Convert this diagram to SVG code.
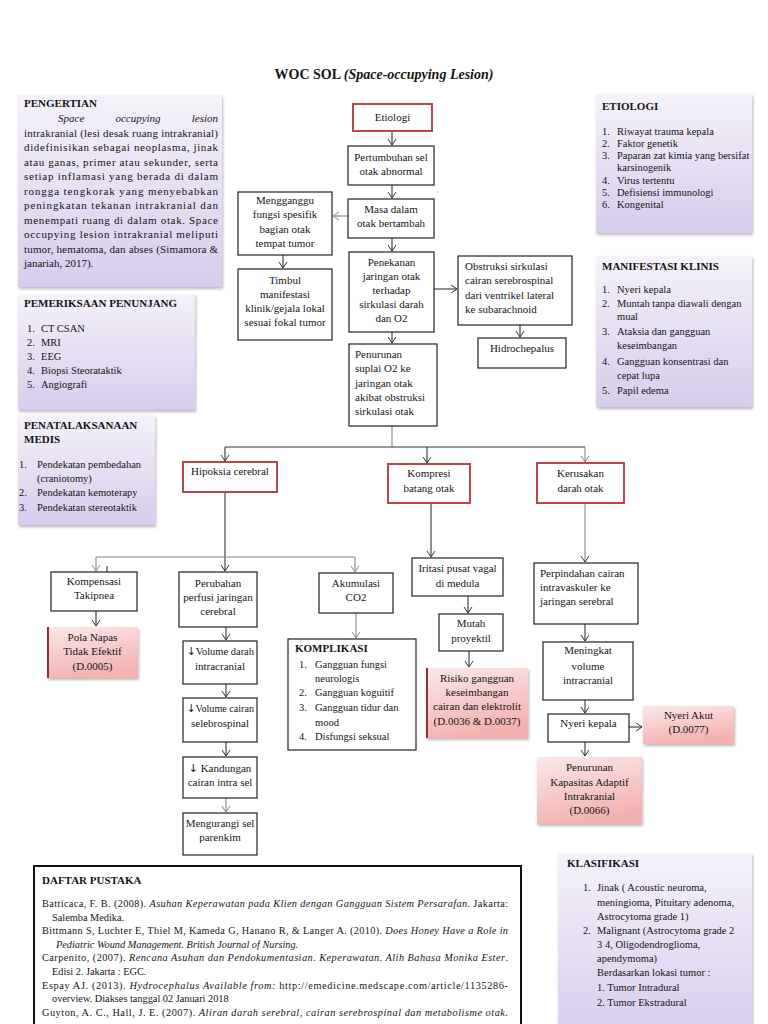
<svg xmlns="http://www.w3.org/2000/svg" width="768" height="1024" viewBox="0 0 768 1024">
<defs>
<linearGradient id="purple" x1="0" y1="0" x2="0" y2="1">
<stop offset="0" stop-color="#f5f2fa"/><stop offset="1" stop-color="#d8ccec"/>
</linearGradient>
<linearGradient id="pink" x1="0" y1="0" x2="0.3" y2="1">
<stop offset="0" stop-color="#fde8e8"/><stop offset="1" stop-color="#f2b2b2"/>
</linearGradient>
<filter id="sh" x="-10%" y="-10%" width="125%" height="125%">
<feDropShadow dx="1" dy="2" stdDeviation="1.5" flood-color="#888" flood-opacity="0.6"/>
</filter>
<marker id="ar" markerUnits="userSpaceOnUse" markerWidth="10" markerHeight="10" viewBox="-7 -5 8 10" refX="0" refY="0" orient="auto">
<path d="M-6,-4 L0,0 L-6,4" fill="none" stroke="#333" stroke-width="1"/>
</marker>
<marker id="ag" markerUnits="userSpaceOnUse" markerWidth="10" markerHeight="10" viewBox="-7 -5 8 10" refX="0" refY="0" orient="auto">
<path d="M-6,-4 L0,0 L-6,4" fill="none" stroke="#888" stroke-width="1"/>
</marker>
</defs>
<style>
text{font-family:"Liberation Serif","Times New Roman",serif;fill:#151515}
.t{font-size:11px}
.c{text-anchor:middle}
.h{font-weight:bold;font-size:11px}
.s{font-size:10.5px}
.d{font-size:10.3px}
.i{font-style:italic}
.dn{font-family:"DejaVu Sans",sans-serif;font-size:11px}
.n{fill:#fff;stroke:#222;stroke-width:1.2}
.r{fill:#fff;stroke:#b84645;stroke-width:2}
.pk{fill:url(#pink);filter:url(#sh)}
.pu{fill:url(#purple);filter:url(#sh)}
.ln{fill:none;stroke:#333;stroke-width:1.1}
.lg{fill:none;stroke:#888;stroke-width:1.1}
</style>
<rect width="768" height="1024" fill="#fff"/>

<text x="384" y="79" text-anchor="middle" style="font-size:14px;font-weight:bold">WOC SOL <tspan font-style="italic">(Space-occupying Lesion)</tspan></text>

<g id="pengertian">
<rect class="pu" x="18" y="95" width="204" height="192"/>
<text class="h" x="24" y="107">PENGERTIAN</text>
<text class="t i" x="58" y="122">Space</text>
<text class="t i c" x="138" y="122">occupying</text>
<text class="t i" x="218" y="122" text-anchor="end">lesion</text>
<text class="t" x="24" y="136.5" textLength="194" lengthAdjust="spacing">intrakranial (lesi desak ruang intrakranial)</text>
<text class="t" x="24" y="151" textLength="194" lengthAdjust="spacing">didefinisikan sebagai neoplasma, jinak</text>
<text class="t" x="24" y="165.5" textLength="194" lengthAdjust="spacing">atau ganas, primer atau sekunder, serta</text>
<text class="t" x="24" y="180" textLength="194" lengthAdjust="spacing">setiap inflamasi yang berada di dalam</text>
<text class="t" x="24" y="194.5" textLength="194" lengthAdjust="spacing">rongga tengkorak yang menyebabkan</text>
<text class="t" x="24" y="209" textLength="194" lengthAdjust="spacing">peningkatan tekanan intrakranial dan</text>
<text class="t" x="24" y="223.5" textLength="194" lengthAdjust="spacing">menempati ruang di dalam otak. Space</text>
<text class="t" x="24" y="238" textLength="194" lengthAdjust="spacing">occupying lesion intrakranial meliputi</text>
<text class="t" x="24" y="252.5" textLength="194" lengthAdjust="spacing">tumor, hematoma, dan abses (Simamora &amp;</text>
<text class="t" x="24" y="267">janariah, 2017).</text>
</g>

<g id="pemeriksaan">
<rect class="pu" x="18" y="294" width="177" height="116"/>
<text class="h" x="24" y="307">PEMERIKSAAN PENUNJANG</text>
<g class="s">
<text x="27" y="332">1.</text><text x="41" y="332">CT CSAN</text>
<text x="27" y="346">2.</text><text x="41" y="346">MRI</text>
<text x="27" y="360">3.</text><text x="41" y="360">EEG</text>
<text x="27" y="374">4.</text><text x="41" y="374">Biopsi Steorataktik</text>
<text x="27" y="388">5.</text><text x="41" y="388">Angiografi</text>
</g>
</g>

<g id="penatalaksanaan">
<rect class="pu" x="18" y="415" width="137" height="110"/>
<text class="h" x="24" y="429">PENATALAKSANAAN</text>
<text class="h" x="24" y="443">MEDIS</text>
<g class="s">
<text x="19" y="468">1.</text><text x="37" y="468">Pendekatan pembedahan</text>
<text x="37" y="482">(craniotomy)</text>
<text x="19" y="496">2.</text><text x="37" y="496">Pendekatan kemoterapy</text>
<text x="19" y="511">3.</text><text x="37" y="511">Pendekatan stereotaktik</text>
</g>
</g>

<g id="etiologi-list">
<rect class="pu" x="596" y="94" width="156" height="139"/>
<text class="h" x="602" y="110">ETIOLOGI</text>
<g class="s">
<text x="602" y="135">1.</text><text x="617" y="135">Riwayat trauma kepala</text>
<text x="602" y="147">2.</text><text x="617" y="147">Faktor genetik</text>
<text x="602" y="159">3.</text><text x="617" y="159">Paparan zat kimia yang bersifat</text>
<text x="617" y="171">karsinogenik</text>
<text x="602" y="184">4.</text><text x="617" y="184">Virus tertentu</text>
<text x="602" y="196">5.</text><text x="617" y="196">Defisiensi immunologi</text>
<text x="602" y="208">6.</text><text x="617" y="208">Kongenital</text>
</g>
</g>

<g id="manifestasi">
<rect class="pu" x="596" y="256" width="156" height="151"/>
<text class="h" x="602" y="270">MANIFESTASI KLINIS</text>
<g class="s">
<text x="602" y="293">1.</text><text x="617" y="293">Nyeri kepala</text>
<text x="602" y="307">2.</text><text x="617" y="307">Muntah tanpa diawali dengan</text>
<text x="617" y="320">mual</text>
<text x="602" y="335">3.</text><text x="617" y="335">Ataksia dan gangguan</text>
<text x="617" y="349">keseimbangan</text>
<text x="602" y="365">4.</text><text x="617" y="365">Gangguan konsentrasi dan</text>
<text x="617" y="379">cepat lupa</text>
<text x="602" y="394">5.</text><text x="617" y="394">Papil edema</text>
</g>
</g>

<g id="klasifikasi">
<rect class="pu" x="558" y="853" width="194" height="185"/>
<text class="h" x="567" y="867">KLASIFIKASI</text>
<g class="s">
<text x="583" y="891">1.</text><text x="597" y="891">Jinak ( Acoustic neuroma,</text>
<text x="597" y="906">meningioma, Pituitary adenoma,</text>
<text x="597" y="920">Astrocytoma grade 1)</text>
<text x="583" y="934">2.</text><text x="597" y="934">Malignant (Astrocytoma grade 2</text>
<text x="597" y="948">3 4, Oligodendroglioma,</text>
<text x="597" y="962">apendymoma)</text>
<text x="597" y="976">Berdasarkan lokasi tumor :</text>
<text x="597" y="991">1. Tumor Intradural</text>
<text x="597" y="1006">2. Tumor Ekstradural</text>
</g>
</g>

<g id="daftar-pustaka">
<rect x="34" y="866" width="487" height="170" fill="#fff" stroke="#111" stroke-width="2"/>
<text class="h" x="42" y="884">DAFTAR PUSTAKA</text>
<g class="d">
<text x="42" y="907" textLength="466" lengthAdjust="spacing">Batticaca, F. B. (2008). <tspan class="i">Asuhan Keperawatan pada Klien dengan Gangguan Sistem Persarafan</tspan>. Jakarta:</text>
<text x="52" y="921">Salemba Medika.</text>
<text x="42" y="934" textLength="466" lengthAdjust="spacing">Bittmann S, Luchter E, Thiel M, Kameda G, Hanano R, &amp; Langer A. (2010). <tspan class="i">Does Honey Have a Role in</tspan></text>
<text x="56" y="948" class="i">Pediatric Wound Management. British Journal of Nursing.</text>
<text x="42" y="961" textLength="466" lengthAdjust="spacing">Carpenito, (2007). <tspan class="i">Rencana Asuhan dan Pendokumentasian. Keperawatan. Alih Bahasa Monika Ester</tspan>.</text>
<text x="52" y="975">Edisi 2. Jakarta : EGC.</text>
<text x="42" y="989" textLength="466" lengthAdjust="spacing">Espay AJ. (2013). <tspan class="i">Hydrocephalus Available from:</tspan> http://emedicine.medscape.com/article/1135286-</text>
<text x="52" y="1002">overview. Diakses tanggal 02 Januari 2018</text>
<text x="42" y="1016" textLength="466" lengthAdjust="spacing">Guyton, A. C., Hall, J. E. (2007). <tspan class="i">Aliran darah serebral, cairan serebrospinal dan metabolisme otak.</tspan></text>
</g>
</g>

<g id="connectors">
<path class="ln" d="M392,131 V145" marker-end="url(#ar)"/>
<path class="ln" d="M392,185 V198" marker-end="url(#ar)"/>
<path class="lg" d="M348,216 H333" marker-end="url(#ag)"/>
<path class="ln" d="M283,255 V268" marker-end="url(#ar)"/>
<path class="ln" d="M392,238 V251" marker-end="url(#ar)"/>
<path class="ln" d="M434,289 H457" marker-end="url(#ar)"/>
<path class="ln" d="M520,325 V337" marker-end="url(#ar)"/>
<path class="ln" d="M392,332 V343" marker-end="url(#ar)"/>
<path class="lg" d="M392,426 V447"/>
<path class="ln" d="M225,447 H585"/>
<path class="ln" d="M225,447 V461" marker-end="url(#ar)"/>
<path class="ln" d="M427,447 V463" marker-end="url(#ar)"/>
<path class="lg" d="M585,447 V462" marker-end="url(#ag)"/>
<path class="ln" d="M225,492 V571" marker-end="url(#ar)"/>
<path class="lg" d="M96,557 H355"/>
<path class="lg" d="M96,557 V571" marker-end="url(#ag)"/>
<path class="lg" d="M355,557 V572" marker-end="url(#ag)"/>
<path class="ln" d="M107,566 V579"/>
<path class="ln" d="M96,611 V626" marker-end="url(#ar)"/>
<path class="ln" d="M226,627 V640" marker-end="url(#ar)"/>
<path class="ln" d="M226,684 V697" marker-end="url(#ar)"/>
<path class="ln" d="M226,742 V756" marker-end="url(#ar)"/>
<path class="lg" d="M226,798 V812" marker-end="url(#ag)"/>
<path class="lg" d="M356,613 V638" marker-end="url(#ag)"/>
<path class="ln" d="M431,503 V557" marker-end="url(#ar)"/>
<path class="ln" d="M468,596 V613" marker-end="url(#ar)"/>
<path class="ln" d="M469,651 V667" marker-end="url(#ar)"/>
<path class="lg" d="M585,503 V562" marker-end="url(#ar)"/>
<path class="ln" d="M585,624 V641" marker-end="url(#ar)"/>
<path class="ln" d="M585,700 V713" marker-end="url(#ar)"/>
<path class="ln" d="M629,727 H642" marker-end="url(#ar)"/>
<path class="ln" d="M585,742 V756" marker-end="url(#ar)"/>
</g>

<g id="n-etiologi"><rect class="r" x="353" y="104" width="79" height="27"/><text class="t c" x="392.5" y="121">Etiologi</text></g>
<g id="n-pertumbuhan"><rect class="n" x="348" y="146" width="86" height="39"/><text class="t c" x="391" y="161">Pertumbuhan sel</text><text class="t c" x="391" y="175">otak abnormal</text></g>
<g id="n-masa"><rect class="n" x="348" y="199" width="86" height="39"/><text class="t c" x="391" y="213">Masa dalam</text><text class="t c" x="391" y="227">otak bertambah</text></g>
<g id="n-mengganggu"><rect class="n" x="238" y="192" width="94" height="63"/><text class="t c" x="285" y="204">Mengganggu</text><text class="t c" x="285" y="218">fungsi spesifik</text><text class="t c" x="285" y="233">bagian otak</text><text class="t c" x="285" y="247">tempat tumor</text></g>
<g id="n-timbul"><rect class="n" x="238" y="269" width="94" height="71"/><text class="t c" x="285" y="284">Timbul</text><text class="t c" x="285" y="298">manifestasi</text><text class="t c" x="285" y="312">klinik/gejala lokal</text><text class="t c" x="285" y="326">sesuai fokal tumor</text></g>
<g id="n-penekanan"><rect class="n" x="349" y="252" width="85" height="80"/><text class="t c" x="391.5" y="266">Penekanan</text><text class="t c" x="391.5" y="280">jaringan otak</text><text class="t c" x="391.5" y="294">terhadap</text><text class="t c" x="391.5" y="308">sirkulasi darah</text><text class="t c" x="391.5" y="322">dan O2</text></g>
<g id="n-obstruksi"><rect class="n" x="458" y="256" width="114" height="69"/><text class="t" x="465" y="270">Obstruksi sirkulasi</text><text class="t" x="465" y="284">cairan serebrospinal</text><text class="t" x="465" y="299">dari ventrikel lateral</text><text class="t" x="465" y="313">ke subarachnoid</text></g>
<g id="n-hidrochepalus"><rect class="n" x="478" y="338" width="88" height="30"/><text class="t c" x="522" y="352">Hidrochepalus</text></g>
<g id="n-penurunan-suplai"><rect class="n" x="349" y="344" width="88" height="82"/><text class="t" x="355" y="358">Penurunan</text><text class="t" x="355" y="372">suplai O2 ke</text><text class="t" x="355" y="387">jaringan otak</text><text class="t" x="355" y="401">akibat obstruksi</text><text class="t" x="355" y="415">sirkulasi otak</text></g>
<g id="n-hipoksia"><rect class="r" x="183" y="462" width="94" height="30"/><text class="t c" x="230" y="475">Hipoksia cerebral</text></g>
<g id="n-kompresi"><rect class="r" x="388" y="464" width="82" height="39"/><text class="t c" x="429" y="477">Kompresi</text><text class="t c" x="429" y="492">batang otak</text></g>
<g id="n-kerusakan"><rect class="r" x="537" y="463" width="87" height="40"/><text class="t c" x="580.5" y="477">Kerusakan</text><text class="t c" x="580.5" y="492">darah otak</text></g>
<g id="n-kompensasi"><rect class="n" x="51" y="572" width="86" height="39"/><text class="t c" x="94" y="585">Kompensasi</text><text class="t c" x="94" y="599">Takipnea</text></g>
<g id="n-pola-napas"><rect class="pk" x="47" y="627" width="91" height="51"/><path d="M48,627 V678" stroke="#8a3434" stroke-width="2"/><text class="t c" x="92.5" y="641">Pola Napas</text><text class="t c" x="92.5" y="655">Tidak Efektif</text><text class="t c" x="92.5" y="670">(D.0005)</text></g>
<g id="n-perubahan"><rect class="n" x="179" y="572" width="78" height="55"/><text class="t c" x="218" y="587">Perubahan</text><text class="t c" x="218" y="601">perfusi  jaringan</text><text class="t c" x="218" y="615">cerebral</text></g>
<g id="n-volume-darah"><rect class="n" x="183" y="641" width="74" height="43"/><text class="t" x="187" y="655" textLength="67" lengthAdjust="spacingAndGlyphs"><tspan class="dn">↓</tspan>Volume darah</text><text class="t c" x="220" y="670">intracranial</text></g>
<g id="n-volume-cairan"><rect class="n" x="183" y="698" width="74" height="44"/><text class="t" x="187" y="712" textLength="67" lengthAdjust="spacingAndGlyphs"><tspan class="dn">↓</tspan>Volume cairan</text><text class="t c" x="220" y="727">selebrospinal</text></g>
<g id="n-kandungan"><rect class="n" x="183" y="757" width="74" height="41"/><text class="t c" x="220" y="772"><tspan class="dn">↓</tspan> Kandungan</text><text class="t c" x="220" y="786">cairan intra sel</text></g>
<g id="n-mengurangi"><rect class="n" x="183" y="813" width="74" height="42"/><text class="t c" x="220" y="827">Mengurangi  sel</text><text class="t c" x="220" y="841">parenkim</text></g>
<g id="n-akumulasi"><rect class="n" x="319" y="573" width="74" height="40"/><text class="t c" x="356" y="587">Akumulasi</text><text class="t c" x="356" y="601">CO2</text></g>
<g id="n-komplikasi"><rect class="n" x="288" y="639" width="128" height="111"/><text class="h" x="295" y="652">KOMPLIKASI</text>
<g class="s"><text x="299" y="668">1.</text><text x="315" y="668">Gangguan fungsi</text><text x="315" y="682">neurologis</text><text x="299" y="696">2.</text><text x="315" y="696">Gangguan koguitif</text><text x="299" y="711">3.</text><text x="315" y="711">Gangguan tidur dan</text><text x="315" y="726">mood</text><text x="299" y="740">4.</text><text x="315" y="740">Disfungsi seksual</text></g></g>
<g id="n-iritasi"><rect class="n" x="412" y="558" width="91" height="38"/><text class="t c" x="457.5" y="572">Iritasi pusat vagal</text><text class="t c" x="457.5" y="587">di medula</text></g>
<g id="n-mutah"><rect class="n" x="439" y="614" width="64" height="37"/><text class="t c" x="471" y="627">Mutah</text><text class="t c" x="471" y="642">proyektil</text></g>
<g id="n-risiko"><rect class="pk" x="426" y="668" width="102" height="70"/><path d="M427,668 V738" stroke="#8a3434" stroke-width="2"/><text class="t c" x="477" y="682">Risiko gangguan</text><text class="t c" x="477" y="696">keseimbangan</text><text class="t c" x="477" y="710">cairan dan elektrolit</text><text class="t c" x="477" y="725">(D.0036 &amp; D.0037)</text></g>
<g id="n-perpindahan"><rect class="n" x="534" y="563" width="104" height="61"/><text class="t" x="540" y="577">Perpindahan cairan</text><text class="t" x="540" y="591">intravaskuler ke</text><text class="t" x="540" y="605">jaringan serebral</text></g>
<g id="n-meningkat"><rect class="n" x="543" y="642" width="90" height="58"/><text class="t c" x="588" y="654">Meningkat</text><text class="t c" x="588" y="670">volume</text><text class="t c" x="588" y="684">intracranial</text></g>
<g id="n-nyeri-kepala"><rect class="n" x="548" y="714" width="81" height="28"/><text class="t c" x="588.5" y="727">Nyeri kepala</text></g>
<g id="n-nyeri-akut"><rect class="pk" x="643" y="706" width="91" height="38"/><text class="t c" x="688.5" y="719">Nyeri Akut</text><text class="t c" x="688.5" y="733">(D.0077)</text></g>
<g id="n-kapasitas"><rect class="pk" x="537" y="757" width="105" height="67"/><text class="t c" x="589.5" y="771">Penurunan</text><text class="t c" x="589.5" y="786">Kapasitas Adaptif</text><text class="t c" x="589.5" y="800">Intrakranial</text><text class="t c" x="589.5" y="814">(D.0066)</text></g>
</svg>
